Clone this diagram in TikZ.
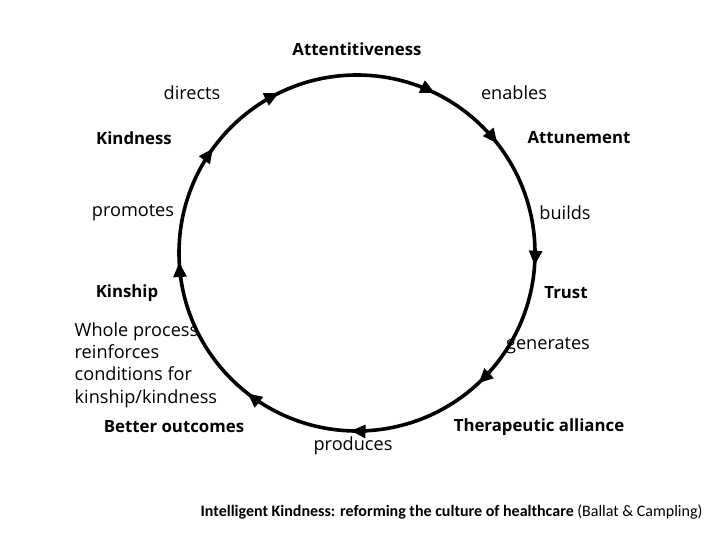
\documentclass[tikz,border=0pt]{standalone}
\usepackage{fontspec}
\setmainfont{Open Sans}
\newfontfamily\capfont{Carlito}
\usetikzlibrary{arrows.meta,calc}
\begin{document}
\begin{tikzpicture}[x=0.75pt,y=0.75pt,
  bl/.style={font=\fontsize{12.6}{15}\selectfont\bfseries},
  rg/.style={font=\fontsize{13.6}{16}\selectfont},
  ring/.style={line width=2.7pt},
  tip/.style={-{Triangle[length=11pt,width=9.5pt]}, line width=2.7pt}]
\useasboundingbox (0,0) rectangle (720,540);
\coordinate (c) at (357,287);
\draw[ring] (c) circle (178);
\foreach \a in {116,64,38,-4,-47,-92,-128,-177,144}
  \draw[tip] ($(c)+(\a+5:178)$) arc (\a+5:\a:178);
\node[bl] (att) at (357,491) {Attentitiveness};
\node[rg] (dir) at (192,447) {directs};
\node[rg] (ena) at (514,447) {enables};
\node[bl] (kin) at (134,402) {Kindness};
\node[bl] (atu) at (579,402) {Attunement};
\node[rg] (pro) at (133,327) {promotes};
\node[rg] (bui) at (565,327) {builds};
\node[bl] (ksh) at (127,247) {Kinship};
\node[bl] (tru) at (566,247) {Trust};
\node[rg,align=left,anchor=west,font=\fontsize{13.6}{16.8}\selectfont] (who) at (70,175) {Whole process\\reinforces\\conditions for\\kinship/kindness};
\node[rg] (gen) at (548,194) {generates};
\node[bl] (bet) at (174,113) {Better outcomes};
\node[bl] (the) at (539,113) {Therapeutic alliance};
\node[rg] (prd) at (353,94) {produces};
\node[anchor=west,font=\capfont\fontsize{12}{14}\selectfont] (cap) at (196,28) {\textbf{Intelligent Kindness: reforming the culture of healthcare} (Ballat \& Campling)};
\end{tikzpicture}
\end{document}
